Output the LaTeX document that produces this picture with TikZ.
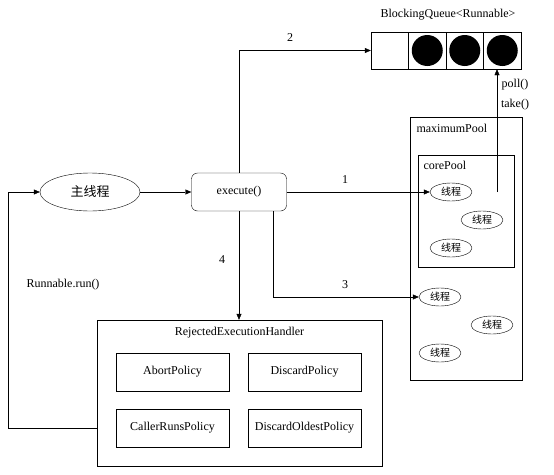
\documentclass[tikz,border=0pt]{standalone}
\usepackage{fontspec}
\setmainfont{Liberation Serif}
\newfontfamily\cjk{Noto Sans CJK SC}
\usepackage{tikz}
\usetikzlibrary{arrows.meta,positioning,calc,shapes.geometric}

\begin{document}
\begin{tikzpicture}[>={Triangle[length=6pt,width=5pt]}, x=1pt, y=-1pt,
  font=\fontsize{12}{14}\selectfont,
  policy/.style={draw, minimum width=113pt, minimum height=38pt},
  cell/.style={draw, minimum width=37.5pt, minimum height=37pt, inner sep=0pt},
  ball/.style={circle, fill=black, minimum size=31pt, inner sep=0pt},
  thread/.style={draw, ellipse, minimum width=42pt, minimum height=18pt, inner sep=0pt,
    font=\cjk\fontsize{10}{12}\selectfont}]
  \useasboundingbox (0,0) rectangle (554,474);

  % Main thread and execute
  \node[draw, ellipse, minimum width=100pt, minimum height=38pt, font=\cjk\fontsize{13}{15}\selectfont] (main) at (90,192) {主线程};
  \node[draw, rounded corners=6pt, minimum width=95pt, minimum height=38pt] (exec) at (239,192) {execute()};
  \draw[->] (main) -- (exec);

  % Blocking queue
  \node (qlabel) at (448,15) {BlockingQueue<Runnable>};
  \node[cell] (q0) at (389.75,50.5) {};
  \node[cell] (q1) at (427.25,50.5) {};
  \node[cell] (q2) at (464.75,50.5) {};
  \node[cell] (q3) at (502.25,50.5) {};
  \foreach \i in {1,2,3}
    \node[ball] at (q\i) {};

  % Pools
  \draw (410,117) rectangle (522,380);
  \node[anchor=west] (maxlabel) at (413,128) {maximumPool};
  \draw (418,155) rectangle (514,267);
  \node[anchor=west] (corelabel) at (420,165) {corePool};
  \node[thread] (t1) at (451,192) {线程};
  \node[thread] (t2) at (482,220) {线程};
  \node[thread] (t3) at (451,248) {线程};
  \node[thread] (t4) at (440,297) {线程};
  \node[thread] (t5) at (492,325) {线程};
  \node[thread] (t6) at (440,353) {线程};

  % Rejected handler
  \node[draw, minimum width=285pt, minimum height=146pt] (rej) at (239.5,393) {};
  \node (rejlabel) at (239.5,333) {RejectedExecutionHandler};
  \node[policy] (abort) at (172.5,372) {AbortPolicy};
  \node[policy] (discard) at (304.5,372) {DiscardPolicy};
  \node[policy] (caller) at (172.5,428) {CallerRunsPolicy};
  \node[policy] (oldest) at (304.5,428) {DiscardOldestPolicy};

  % Connectors
  \draw[->] (exec.east) -- (t1.west);
  \node (one) at (345,180) {1};
  \draw[->] (exec.north) |- (q0.west);
  \node (two) at (290,38) {2};
  \draw[->] ($(exec.south east)+(-14,0)$) |- (t4.west);
  \node (three) at (345,285) {3};
  \draw[->] (exec.south) -- (exec.south |- rej.north);
  \node (four) at (222,260) {4};

  \coordinate (pollstart) at (497,192);
  \draw[->] (pollstart) -- (pollstart |- q3.south);
  \node (poll) at (515,85) {poll()};
  \node (take) at (515,105) {take()};

  \draw[->] (rej.west |- caller) -- ++(-89,0) |- (main.west);
  \node (run) at (63,285) {Runnable.run()};
\end{tikzpicture}
\end{document}
